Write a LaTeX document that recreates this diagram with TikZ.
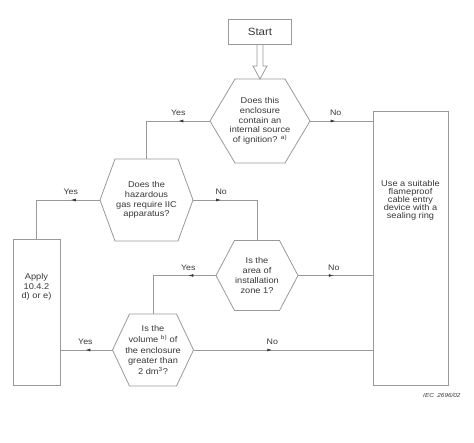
\documentclass[tikz,border=0pt]{standalone}
\usepackage{fontspec}
\setmainfont{Liberation Sans}[FakeStretch=1.1]
\usetikzlibrary{positioning,calc,arrows.meta,decorations.markings}
\definecolor{linegray}{gray}{0.6}
\definecolor{textgray}{gray}{0.22}
\tikzset{link/.style={draw=linegray,line width=0.8pt}}
\tikzset{hexline/.style={link,line join=miter}}
\tikzset{boxnode/.style={draw=linegray,line width=0.8pt,inner sep=0pt}}
\tikzset{qtext/.style={align=center,text=textgray,inner sep=0pt,font=\fontsize{8.4}{9.7}\selectfont}}
\tikzset{answer/.style={text=textgray,font=\fontsize{8}{9}\selectfont,above=1.5pt}}
\tikzset{flow/.style={link,postaction={decorate},
    decoration={markings,mark=at position #1 with {\arrow[textgray]{Latex[length=5pt,width=3pt]}}}}}
\begin{document}
\begin{tikzpicture}[x=1pt,y=-1pt]
  \useasboundingbox (0,0) rectangle (474,443);
  % boxes
  \node[boxnode,minimum width=63pt,minimum height=25pt,text=textgray,font=\fontsize{10.5}{12}\selectfont] (start) at (260,31.5) {Start};
  \node[boxnode,minimum width=75pt,minimum height=274pt] (use) at (410.5,248) {};
  \node[qtext,font=\fontsize{8.4}{8}\selectfont] (usetext) at (410.5,200) {Use a suitable\\flameproof\\cable entry\\device with a\\sealing ring};
  \node[boxnode,minimum width=47pt,minimum height=146pt] (apply) at (36.5,312) {};
  \node[qtext] (applytext) at (36.5,287) {Apply\\10.4.2\\d) or e)};
  % questions
  \node[qtext] (q1) at (260,121) {Does this\\enclosure\\contain an\\internal source\\of ignition? \textsuperscript{a)}};
  \draw[hexline,shift={(q1)}] (-25,-42) -- (0,-42) coordinate (q1n) -- (25,-42) -- (50,0) coordinate (q1e)
    -- (25,42) -- (-25,42) -- (-50,0) coordinate (q1w) -- cycle;
  \node[qtext] (q2) at (146.5,200) {Does the\\hazardous\\gas require IIC\\apparatus?};
  \draw[hexline,shift={(q2)}] (-31.5,-41) -- (0,-41) coordinate (q2n) -- (31.5,-41) -- (46.5,0) coordinate (q2e)
    -- (31.5,41) -- (-31.5,41) -- (-46.5,0) coordinate (q2w) -- cycle;
  \node[qtext] (q3) at (257,275.5) {Is the\\area of\\installation\\zone 1?};
  \draw[hexline,shift={(q3)}] (-22.5,-35) -- (0,-35) coordinate (q3n) -- (22.5,-35) -- (41,0) coordinate (q3e)
    -- (22.5,35) -- (-22.5,35) -- (-41,0) coordinate (q3w) -- cycle;
  \node[qtext,font=\fontsize{8.4}{10.8}\selectfont] (q4) at (153,350) {Is the\\volume \textsuperscript{b)} of\\the enclosure\\greater than\\2 dm\textsuperscript{3}?};
  \draw[hexline,shift={(q4)}] (-23.5,-36) -- (0,-36) coordinate (q4n) -- (23.5,-36) -- (40.5,0) coordinate (q4e)
    -- (23.5,36) -- (-23.5,36) -- (-40.5,0) coordinate (q4w) -- cycle;
  % hollow arrow
  \draw[hexline] ($(start.south)+(-3,0)$) -- ($(q1n)+(-3,-13)$) -- ($(q1n)+(-7,-13)$) -- (q1n)
    -- ($(q1n)+(7,-13)$) -- ($(q1n)+(3,-13)$) -- ($(start.south)+(3,0)$);
  % connectors
  \coordinate (y1) at (q1w -| q2n);
  \draw[flow=0.5] (q1w) -- node[answer,pos=0.5] {Yes} (y1);
  \draw[link] (y1) -- (q2n);
  \draw[flow=0.41] (q1e) -- node[answer,pos=0.41] {No} (q1e -| use.west);
  \coordinate (n2) at (q2e -| q3n);
  \draw[flow=0.44] (q2e) -- node[answer,pos=0.44] {No} (n2);
  \draw[link] (n2) -- (q3n);
  \coordinate (y2) at (q2w -| apply.north);
  \draw[flow=0.46] (q2w) -- node[answer,pos=0.46] {Yes} (y2);
  \draw[link] (y2) -- (apply.north);
  \coordinate (y3) at (q3w -| q4n);
  \draw[flow=0.44] (q3w) -- node[answer,pos=0.44] {Yes} (y3);
  \draw[link] (y3) -- (q4n);
  \draw[flow=0.48] (q3e) -- node[answer,pos=0.48] {No} (q3e -| use.west);
  \draw[flow=0.52] (q4w) -- node[answer,pos=0.52] {Yes} (q4w -| apply.east);
  \draw[flow=0.44] (q4e) -- node[answer,pos=0.44] {No} (q4e -| use.west);
  \node[anchor=east,text=textgray,font=\fontsize{5.8}{7}\selectfont\itshape] (ref) at (464,395) {IEC\ \ 2696/02};
\end{tikzpicture}
\end{document}
